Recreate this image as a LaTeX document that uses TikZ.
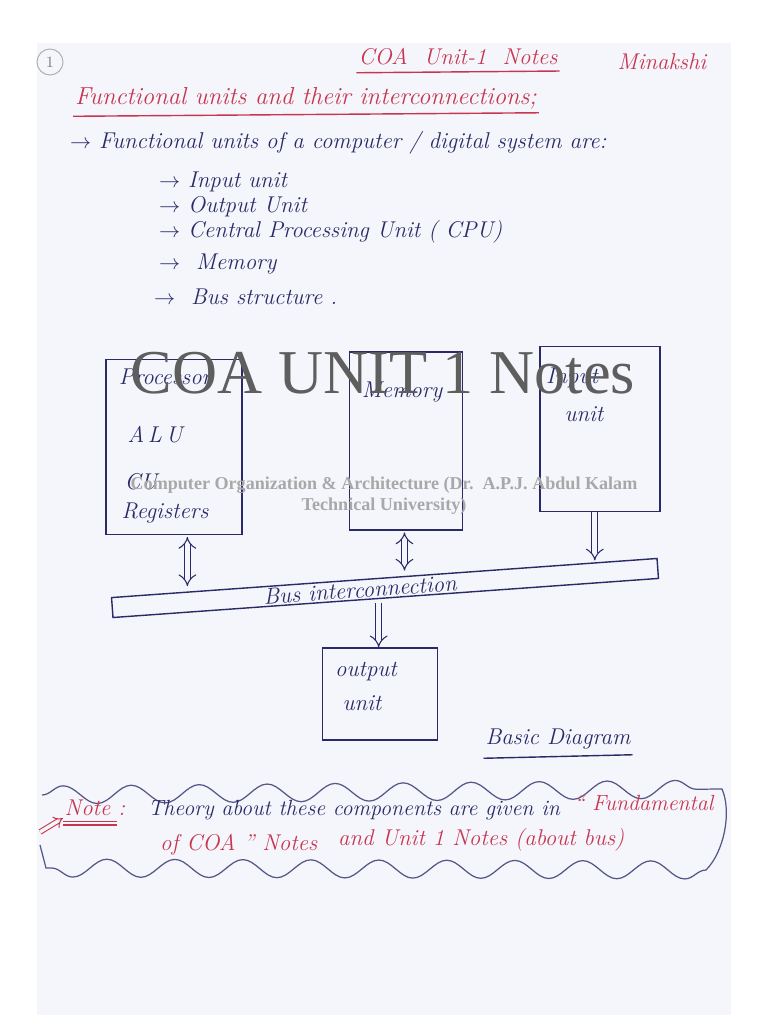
\documentclass[tikz,border=0pt]{standalone}
\usepackage{fontspec}
\usepackage{amsmath,amssymb}
\usetikzlibrary{arrows,arrows.meta,calc,decorations.pathmorphing}
\newfontfamily\wmfont{Liberation Serif}
\definecolor{inkblue}{HTML}{2A2A68}
\definecolor{inkred}{HTML}{C8354F}
\definecolor{paper}{HTML}{F4F6FC}
\definecolor{wmgray}{HTML}{5E5E5E}
\definecolor{wmlight}{HTML}{A8A8A8}

\begin{document}
\begin{tikzpicture}[
x=0.02cm, y=-0.02cm,
ink/.style={font=\fontsize{13}{15}\selectfont\itshape, inner sep=1pt},
blueink/.style={ink, text=inkblue},
redink/.style={ink, text=inkred},
bigink/.style={font=\fontsize{14}{16}\selectfont\itshape, inner sep=1pt},
unitbox/.style={draw=inkblue, line width=0.8pt, inner sep=0pt},
inkline/.style={draw=inkblue, line width=0.8pt},
redline/.style={draw=inkred, line width=0.8pt},
dbl/.style={draw=inkblue, double=paper, double distance=3pt, line width=0.6pt},
wavyline/.style={draw=inkblue!80, line width=0.7pt, decoration={snake, segment length=1.36cm, amplitude=0.18cm}} ]

\useasboundingbox (0,0) rectangle (768,1024);

\fill[white] (0,0) rectangle (768,1024);

\fill[paper] (37,43) rectangle (731,1015);

% heading
\node[circle, draw=gray!60, line width=0.6pt, minimum size=0.52cm, inner sep=0pt, text=gray, font=\small] (pgno) at (50,62) {1};

\node[redink] (coa) at (458,57) {COA\ \ Unit-1\ \ Notes};

\node[redink] (author) at (662,62) {Minakshi};

\node[bigink, text=inkred] (title) at (306,98) {Functional units and their interconnections;};

\draw[redline] ([yshift=-3pt]coa.south west) -- ([yshift=-2pt]coa.south east);

\draw[redline] ([yshift=-3pt]title.south west) -- ([yshift=-1pt]title.south east);

\node[blueink, anchor=west] (intro) at (68,143) {$\to$ Functional units of a computer / digital system are:};

\node[blueink, anchor=west] (item1) at (157,182) {$\to$ Input unit};

\node[blueink, anchor=west] (item2) at (157,207) {$\to$ Output Unit};

\node[blueink, anchor=west] (item3) at (157,232) {$\to$ Central Processing Unit ( CPU)};

\node[blueink, anchor=west] (item4) at (157,264) {$\to$ \ Memory};

\node[blueink, anchor=west] (item5) at (152,297) {$\to$ \ Bus structure .};

% basic diagram
\node[unitbox, minimum width=2.72cm, minimum height=3.5cm] (proc) at (174,447) {};

\node[unitbox, minimum width=2.26cm, minimum height=3.56cm] (mem) at (406,441) {};

\node[unitbox, minimum width=2.4cm, minimum height=3.3cm] (inp) at (600,429) {};

\node[unitbox, minimum width=2.3cm, minimum height=1.84cm] (out) at (380,694) {};

\node[unitbox, rotate=4.1, minimum width=10.94cm, minimum height=0.4cm] (bus) at (385,588) {};

\node[blueink] (proclbl) at (165,377) {Processor};

\node[blueink] (alu) at (155,435) {A\,L\,U};

\node[blueink] (cu) at (141,482) {CU};

\node[blueink] (regs) at (165,513) {Registers};

\node[blueink] (memlbl) at (402,392) {Memory};

\node[blueink] (inplbl) at (572,378) {Input};

\node[blueink] (inpunit) at (584,414) {unit};

\node[blueink] (outlbl) at (366,672) {output};

\node[blueink] (outunit) at (362,703) {unit};

\node[blueink, rotate=4.1] (buslbl) at (360,590) {Bus interconnection};

\coordinate (pb) at ($(bus.north west)!0.14!(bus.north east)$);

\coordinate (mb) at ($(bus.north west)!0.537!(bus.north east)$);

\coordinate (ib) at ($(bus.north west)!0.885!(bus.north east)$);

\coordinate (ob) at ($(bus.south west)!0.487!(bus.south east)$);

\draw[dbl, {Implies}-{Implies}, shorten <=1pt, shorten >=3pt] (proc.south -| pb) -- (pb);

\draw[dbl, {Implies}-{Implies}, shorten <=1pt, shorten >=3pt] (mem.south -| mb) -- (mb);

\draw[dbl, -{Implies}, shorten >=1pt] (inp.south -| ib) -- (ib);

\draw[dbl, -{Implies}, shorten <=2pt] (ob) -- (out.north -| ob);

\node[blueink] (basic) at (558,739) {Basic Diagram};

\draw[inkline] ([yshift=-4pt]basic.south west) -- ([yshift=-2pt]basic.south east);

% note
\coordinate (nt1) at (42,795);

\coordinate (nt2) at (722,789);

\coordinate (nb1) at (706,870);

\coordinate (nb2) at (46,868);

\coordinate (nl) at (40,845);

\draw[wavyline] (nt1) decorate {-- (nt2)} .. controls (732,812) and (724,852) .. (nb1) decorate {-- (nb2)} -- (nl);

\node[redink] (note) at (95,808) {Note :};

\draw[redline] ([yshift=-2pt]note.south west) -- ([xshift=-6pt,yshift=-2pt]note.south east);

\draw[redline] ([yshift=-4pt]note.south west) -- ([xshift=-6pt,yshift=-4pt]note.south east);

\coordinate (na) at (40,832);

\coordinate (nz) at (63,818);

\draw[draw=inkred, double=paper, double distance=2pt, line width=0.6pt, -{Implies}] (na) -- (nz);

\node[blueink, anchor=west, font=\fontsize{12.5}{15}\selectfont\itshape] (theory) at (146,810) {Theory about these components are given in};

\node[redink, anchor=west, font=\fontsize{12.5}{15}\selectfont\itshape] (fund) at (572,803) {\textquotedblleft\ Fundamental};

\node[redink, anchor=west] (ofcoa) at (158,845) {of COA \textquotedblright\ Notes};

\node[redink, anchor=west] (unitnotes) at (336,840) {and Unit 1 Notes (about bus)};

% watermark
\node[font=\wmfont\fontsize{35.5}{38}\selectfont, text=wmgray, inner sep=0pt] (wmark) at (383,373) {COA UNIT 1 Notes};

\node[font=\wmfont\bfseries\fontsize{10.3}{12}\selectfont, text=wmlight, align=center, inner sep=0pt] (wsub) at (384,496) {Computer Organization \& Architecture (Dr.\ \ A.P.J. Abdul Kalam\\Technical University)};

\end{tikzpicture}
\end{document}
